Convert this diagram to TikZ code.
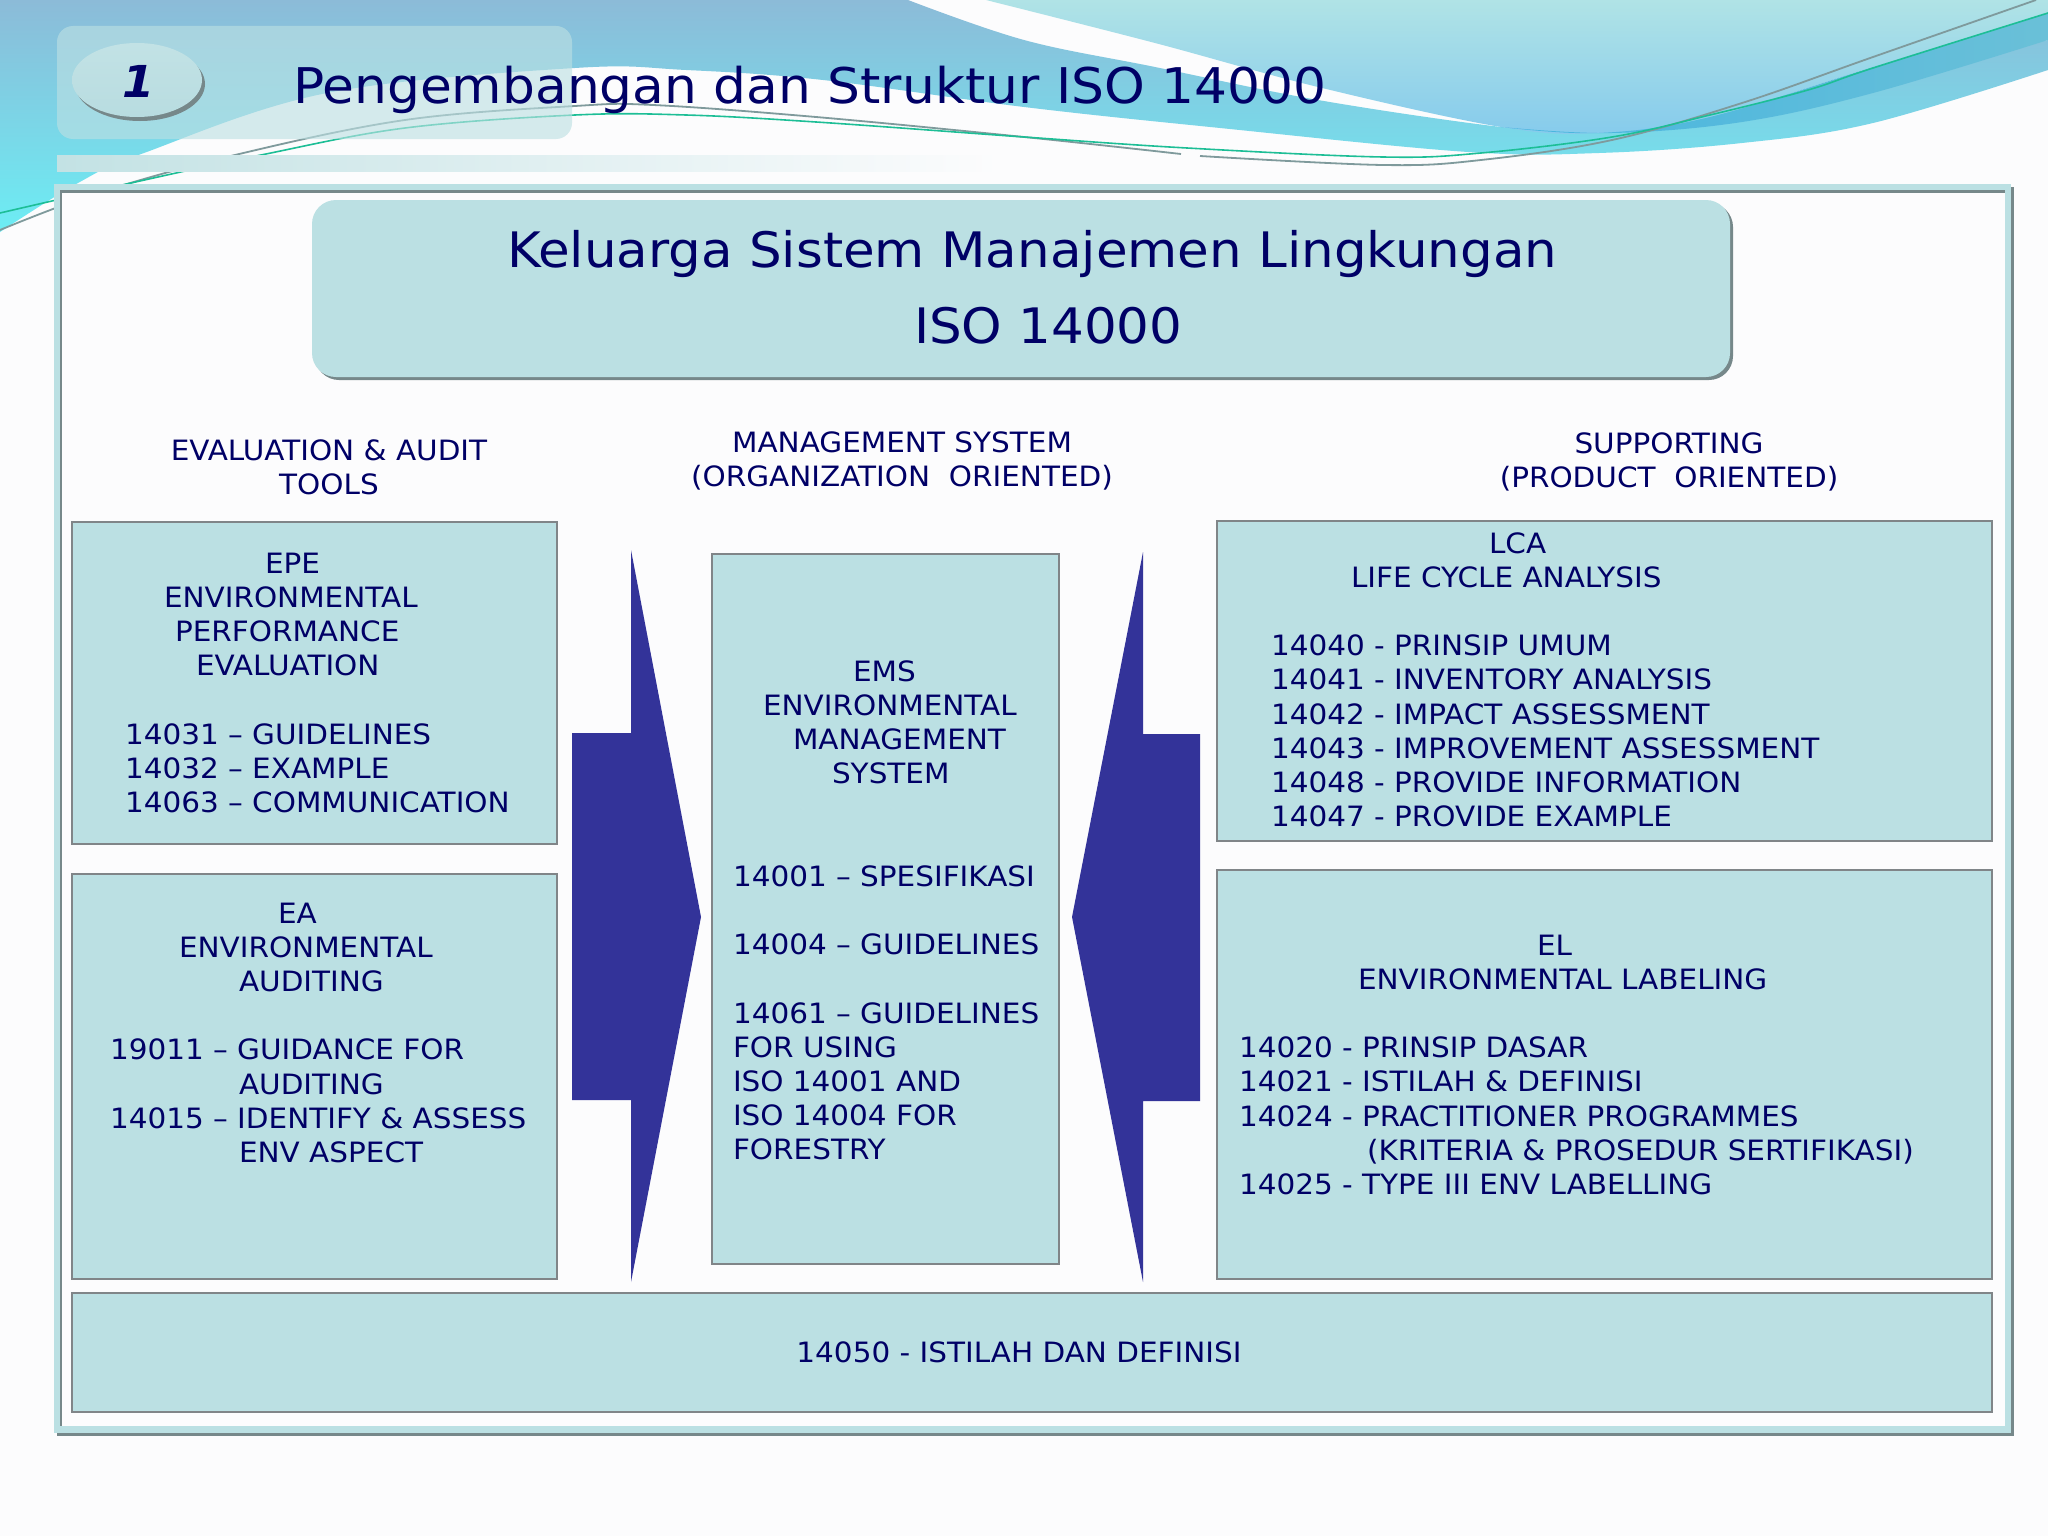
\documentclass[tikz,border=0pt]{standalone}
\usepackage{fontspec}
\setmainfont[FakeStretch=1.053]{DejaVu Sans}
\definecolor{navy}{HTML}{000066}
\definecolor{boxfill}{HTML}{BBE0E3}
\definecolor{boxedge}{HTML}{808588}
\definecolor{shadowgray}{HTML}{76888A}
\definecolor{pagebg}{HTML}{FCFCFD}
\definecolor{arrowblue}{HTML}{333399}
\definecolor{linegreen}{HTML}{1DBE96}
\definecolor{linegray}{HTML}{7F9A9C}
\newdimen\mypx \mypx=0.5pt
\newcommand\LnAt[1]{\hspace*{#1\mypx}\rule{0pt}{12pt}}
\tikzset{
  panel/.style={fill=boxfill,draw=boxedge,line width=1.4pt},
  txt/.style={text=navy,inner sep=0pt,outer sep=0pt,align=left,anchor=north west,font=\fontsize{14}{17.1}\selectfont},
  ctxt/.style={text=navy,inner sep=0pt,outer sep=0pt,align=center,font=\fontsize{14}{17}\selectfont},
  bigtxt/.style={text=navy,inner sep=0pt,outer sep=0pt,anchor=base west,font=\fontsize{24.45}{30}\selectfont},
  blockarrow/.style={fill=arrowblue},
}
\begin{document}
\begin{tikzpicture}[x=0.5pt,y=-0.5pt]
\useasboundingbox (0,0) rectangle (2048,1536);
\fill[pagebg] (0,0) rectangle (2048,1536);
% left / lower wave
\shade[top color={rgb,255:red,140;green,187;blue,216},middle color={rgb,255:red,125;green,214;blue,232},bottom color={rgb,255:red,108;green,237;blue,244}]
  (0,0) -- (908,0) -- plot[smooth,tension=0.6] coordinates {(908,0) (1024,40) (1155,67) (1318,100) (1501,127) (1599,133)}
  -- plot[smooth,tension=0.6] coordinates {(2048,40) (2048,70)}
  -- plot[smooth,tension=0.6] coordinates {(2048,70) (1873,123) (1742,143) (1599,153) (1468,152) (1220,128) (1024,107) (823,80) (686,70) (575,68) (327,93) (144,153) (78,183) (0,232)}
  -- cycle;
% upper right teal
\shade[top color={rgb,255:red,176;green,227;blue,230},bottom color={rgb,255:red,134;green,203;blue,236}]
  (986,0) -- (2048,0) -- (2048,13)
  -- plot[smooth,tension=0.6] coordinates {(2048,13) (1873,67) (1710,117) (1599,133) (1501,127) (1318,87) (1155,43) (986,0)} -- cycle;
% blue ribbon
\shade[left color={rgb,255:red,70;green,181;blue,224},right color={rgb,255:red,106;green,192;blue,216}]
  plot[smooth,tension=0.6] coordinates {(1501,127) (1599,133) (1710,117) (1873,67) (2048,13)}
  -- plot[smooth,tension=0.6] coordinates {(2048,40) (1873,93) (1742,122) (1612,133) (1501,127)} -- cycle;
% thin lines
\draw[linegray,line width=0.9pt] plot[smooth,tension=0.6] coordinates {(0,230) (98,193) (235,155) (405,120) (575,106) (653,105) (816,117) (1024,137) (1181,154)};
\draw[linegray,line width=0.9pt] plot[smooth,tension=0.6] coordinates {(1200,156) (1383,165) (1481,160) (1612,140) (1742,103) (1873,57) (2036,0)};
\draw[linegreen,line width=0.8pt] plot[smooth,tension=0.6] coordinates {(0,213) (131,183) (261,155) (405,128) (575,115) (686,115) (816,122) (1024,137) (1187,148) (1383,157) (1481,153) (1612,137) (1710,115) (1808,90) (1873,68) (2048,13)};
% title plate and stripe
\fill[fill={rgb,255:red,189;green,224;blue,227},fill opacity=0.62,rounded corners=8pt] (57,26) rectangle (572,139);
\shade[left color={rgb,255:red,195;green,226;blue,228},right color=pagebg] (57,155) rectangle (1000,171);
\fill[shadowgray] (140,84) ellipse[x radius=65,y radius=37];
\shade[top color={rgb,255:red,194;green,226;blue,229},bottom color={rgb,255:red,184;green,220;blue,224}] (137,80) ellipse[x radius=65,y radius=37];
\node[text=navy,inner sep=0pt,font=\fontsize{22}{26}\selectfont\bfseries\itshape] (num) at (139,81) {1};
\node[bigtxt,font=\fontsize{24.6}{30}\selectfont] (maintitle) at (293,104) {Pengembangan dan Struktur ISO 14000};
% outer frame
\fill[shadowgray] (57,187) rectangle (2014,1436);
\fill[boxfill] (54,184) rectangle (2011,1433);
\fill[shadowgray] (60,190) rectangle (2005,1426);
\fill[pagebg] (62,193) rectangle (2005,1426);
% heading
\fill[shadowgray,rounded corners=12pt] (315,203) rectangle (1733,380);
\fill[boxfill,rounded corners=12pt] (312,200) rectangle (1730,377);
\node[bigtxt] (headA) at (507,267) {Keluarga Sistem Manajemen Lingkungan};
\node[bigtxt] (headB) at (914,343) {ISO 14000};
% column captions
\node[ctxt] (capL) at (329,467) {EVALUATION \& AUDIT\\TOOLS};
\node[ctxt] (capM) at (902,461) {MANAGEMENT SYSTEM\\(ORGANIZATION\ \ ORIENTED)};
\node[ctxt] (capR) at (1669,462) {SUPPORTING\\(PRODUCT\ \ ORIENTED)};
% panels
\draw[panel] (72,522) rectangle (557,844);
\draw[panel] (72,874) rectangle (557,1279);
\draw[panel] (712,554) rectangle (1059,1264);
\draw[panel] (1217,521) rectangle (1992,841);
\draw[panel] (1217,870) rectangle (1992,1279);
\draw[panel] (72,1293) rectangle (1992,1412);
% block arrows
\fill[blockarrow] (572,733) -- (631,733) -- (631,550) -- (701,917) -- (631,1282) -- (631,1100) -- (572,1100) -- cycle;
\fill[blockarrow] (1200,734) -- (1143,734) -- (1143,552) -- (1072,917) -- (1143,1282) -- (1143,1101) -- (1200,1101) -- cycle;
% panel text
\node[txt] (epe) at (125,549) {\LnAt{140}EPE\\\LnAt{39}ENVIRONMENTAL\\\LnAt{50}PERFORMANCE\\\LnAt{71}EVALUATION\\\LnAt{0}\\\LnAt{0}14031 – GUIDELINES\\\LnAt{0}14032 – EXAMPLE\\\LnAt{0}14063 – COMMUNICATION};
\node[txt] (ea) at (110,899) {\LnAt{168}EA\\\LnAt{69}ENVIRONMENTAL\\\LnAt{129}AUDITING\\\LnAt{0}\\\LnAt{0}19011 – GUIDANCE FOR\\\LnAt{129}AUDITING\\\LnAt{0}14015 – IDENTIFY \& ASSESS\\\LnAt{129}ENV ASPECT};
\node[txt] (ems) at (733,657) {\LnAt{120}EMS\\\LnAt{30}ENVIRONMENTAL\\\LnAt{60}MANAGEMENT\\\LnAt{99}SYSTEM\\\LnAt{0}\\\LnAt{0}\\\LnAt{0}14001 – SPESIFIKASI\\\LnAt{0}\\\LnAt{0}14004 – GUIDELINES\\\LnAt{0}\\\LnAt{0}14061 – GUIDELINES\\\LnAt{0}FOR USING\\\LnAt{0}ISO 14001 AND\\\LnAt{0}ISO 14004 FOR\\\LnAt{0}FORESTRY};
\node[txt] (lca) at (1271,529) {\LnAt{218}LCA\\\LnAt{80}LIFE CYCLE ANALYSIS\\\LnAt{0}\\\LnAt{0}14040 - PRINSIP UMUM\\\LnAt{0}14041 - INVENTORY ANALYSIS\\\LnAt{0}14042 - IMPACT ASSESSMENT\\\LnAt{0}14043 - IMPROVEMENT ASSESSMENT\\\LnAt{0}14048 - PROVIDE INFORMATION\\\LnAt{0}14047 - PROVIDE EXAMPLE};
\node[txt] (el) at (1239,931) {\LnAt{298}EL\\\LnAt{119}ENVIRONMENTAL LABELING\\\LnAt{0}\\\LnAt{0}14020 - PRINSIP DASAR\\\LnAt{0}14021 - ISTILAH \& DEFINISI\\\LnAt{0}14024 - PRACTITIONER PROGRAMMES\\\LnAt{128}(KRITERIA \& PROSEDUR SERTIFIKASI)\\\LnAt{0}14025 - TYPE III ENV LABELLING};
\node[ctxt] (terms) at (1019,1352) {14050 - ISTILAH DAN DEFINISI};
\end{tikzpicture}
\end{document}
